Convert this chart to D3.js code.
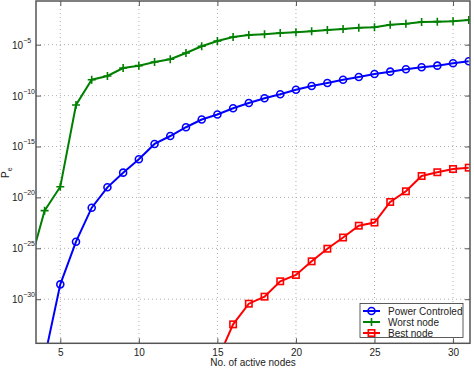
<!DOCTYPE html>
<html><head><meta charset="utf-8">
<script src="https://cdn.jsdelivr.net/npm/d3@7"></script>
<style>body{margin:0;background:#fff}svg{display:block}text{font-family:"Liberation Sans",Arial,sans-serif;fill:#222}</style>
</head><body><svg id="c" width="474" height="368"></svg>
<script>
// Data (values stored as log10 of Pe)
const nodes = [3,4,5,6,7,8,9,10,11,12,13,14,15,16,17,18,19,20,21,22,23,24,25,26,27,28,29,30,31];
const worstLog = [-26.9,-21.3,-18.95,-10.92,-8.44,-8.07,-7.29,-7.06,-6.70,-6.43,-5.82,-5.16,-4.64,-4.24,-4.05,-3.98,-3.85,-3.78,-3.68,-3.56,-3.46,-3.33,-3.29,-3.04,-2.94,-2.77,-2.74,-2.70,-2.57];
const pcNodes = [4,5,6,7,8,9,10,11,12,13,14,15,16,17,18,19,20,21,22,23,24,25,26,27,28,29,30,31];
const pcLog = [-35.75,-28.54,-24.35,-21.01,-19.01,-17.57,-16.26,-14.75,-13.97,-13.11,-12.35,-11.86,-11.24,-10.73,-10.26,-9.87,-9.42,-9.06,-8.76,-8.44,-8.17,-7.88,-7.65,-7.42,-7.22,-7.06,-6.83,-6.63];
const bestNodes = [15,16,17,18,19,20,21,22,23,24,25,26,27,28,29,30,31];
const bestLog = [-35.95,-32.47,-30.44,-29.75,-28.24,-27.62,-26.28,-25.04,-23.94,-22.78,-22.47,-20.45,-19.40,-17.90,-17.53,-17.21,-17.08];
const xTicks = [5,10,15,20,25,30];
const yTickExp = [-5,-10,-15,-20,-25,-30];
const seriesNames = ["Power Controled","Worst node","Best node"];
const seriesColors = ["#0000ff","#008000","#ff0000"];
const seriesMarkers = ["circle","plus","square"];

const L=36,R=470,T=1,B=343.3;
const svg=d3.select("#c");
const x=d3.scaleLinear().domain([3.453,31.08]).range([L,R]);
const y=d3.scaleLog().domain([Math.pow(10,-34.33),Math.pow(10,-0.71)]).range([B,T]);

svg.append("defs").append("clipPath").attr("id","clip").append("rect")
  .attr("x",L).attr("y",T).attr("width",R-L).attr("height",B-T);

// grid
const g=svg.append("g");
g.selectAll("line.gx").data(xTicks).join("line")
  .attr("x1",d=>x(d)).attr("x2",d=>x(d)).attr("y1",T).attr("y2",B)
  .attr("stroke","#b0b0b0").attr("stroke-width",1).attr("stroke-dasharray","1,3");
g.selectAll("line.gy").data(yTickExp).join("line")
  .attr("y1",d=>y(Math.pow(10,d))).attr("y2",d=>y(Math.pow(10,d))).attr("x1",L).attr("x2",R)
  .attr("stroke","#b0b0b0").attr("stroke-width",1).attr("stroke-dasharray","1,3");

// series
const series=[
  {xs:pcNodes,v:pcLog,c:seriesColors[0],m:seriesMarkers[0]},
  {xs:nodes,v:worstLog,c:seriesColors[1],m:seriesMarkers[1]},
  {xs:bestNodes,v:bestLog,c:seriesColors[2],m:seriesMarkers[2]}
];
function marker(sel,type,c){
  if(type==="circle") sel.append("circle").attr("r",3.5).attr("fill","none").attr("stroke",c).attr("stroke-width",1.6);
  else if(type==="square") sel.append("rect").attr("x",-3.2).attr("y",-3.2).attr("width",6.4).attr("height",6.4).attr("fill","none").attr("stroke",c).attr("stroke-width",1.6);
  else sel.append("path").attr("d","M-4,0H4M0,-4V4").attr("stroke",c).attr("stroke-width",1.6);
}
const plot=svg.append("g").attr("clip-path","url(#clip)");
series.forEach(s=>{
  const pts=s.xs.map((n,i)=>[n,Math.pow(10,s.v[i])]);
  plot.append("path").datum(pts)
    .attr("d",d3.line().x(d=>x(d[0])).y(d=>y(d[1])))
    .attr("fill","none").attr("stroke",s.c).attr("stroke-width",2);
  pts.forEach(p=>{
    const mg=plot.append("g").attr("transform",`translate(${x(p[0])},${y(p[1])})`);
    marker(mg,s.m,s.c);
  });
});

// axes box & ticks
const ax="#555";
svg.append("rect").attr("x",L).attr("y",T).attr("width",R-L).attr("height",B-T)
  .attr("fill","none").attr("stroke",ax).attr("stroke-width",1.5);
const bottomAxis=d3.axisBottom(x).tickValues(xTicks).tickSize(-5).tickFormat(d3.format("d")).tickPadding(6);
const ba=svg.append("g").attr("transform",`translate(0,${B})`).call(bottomAxis);
ba.select(".domain").remove();
ba.selectAll("line").attr("stroke",ax);
ba.selectAll("text").attr("font-size",10).style("fill","#222").attr("font-family","Liberation Sans, Arial, sans-serif");
const topAxis=d3.axisTop(x).tickValues(xTicks).tickSize(-5).tickFormat("");
const ta=svg.append("g").attr("transform",`translate(0,${T})`).call(topAxis);
ta.select(".domain").remove(); ta.selectAll("line").attr("stroke",ax);
const leftAxis=d3.axisLeft(y).tickValues(yTickExp.map(e=>Math.pow(10,e))).tickSize(-5).tickFormat("");
const la=svg.append("g").attr("transform",`translate(${L},0)`).call(leftAxis);
la.select(".domain").remove(); la.selectAll("line").attr("stroke",ax);
const rightAxis=d3.axisRight(y).tickValues(yTickExp.map(e=>Math.pow(10,e))).tickSize(-5).tickFormat("");
const ra=svg.append("g").attr("transform",`translate(${R},0)`).call(rightAxis);
ra.select(".domain").remove(); ra.selectAll("line").attr("stroke",ax);

// y tick labels 10^e
yTickExp.forEach(e=>{
  const yy=y(Math.pow(10,e));
  const t=svg.append("text").attr("x",12).attr("y",yy+4).attr("font-size",10);
  t.append("tspan").text("10");
  t.append("tspan").attr("dy",-6).attr("font-size",7).text("\u2212"+Math.abs(e));
});

// axis labels
svg.append("text").attr("x",(L+R)/2).attr("y",366).attr("text-anchor","middle").attr("font-size",10).text("No. of active nodes");
const yl=svg.append("text").attr("transform","translate(9,178) rotate(-90)").attr("font-size",10);
yl.append("tspan").text("P");
yl.append("tspan").attr("dy",3).attr("font-size",7).text("e");

// legend
const lg=svg.append("g");
lg.append("rect").attr("x",360).attr("y",303.5).attr("width",103).attr("height",34)
  .attr("fill","#fff").attr("stroke","#333").attr("stroke-width",0.8);
seriesNames.forEach((name,i)=>{
  const yy=311+i*11;
  lg.append("line").attr("x1",363).attr("x2",380).attr("y1",yy).attr("y2",yy).attr("stroke",seriesColors[i]).attr("stroke-width",2);
  const mg=lg.append("g").attr("transform",`translate(371.5,${yy})`);
  marker(mg,seriesMarkers[i],seriesColors[i]);
  lg.append("text").attr("x",388).attr("y",yy+3.5).attr("font-size",10).text(name);
});
</script></body></html>
